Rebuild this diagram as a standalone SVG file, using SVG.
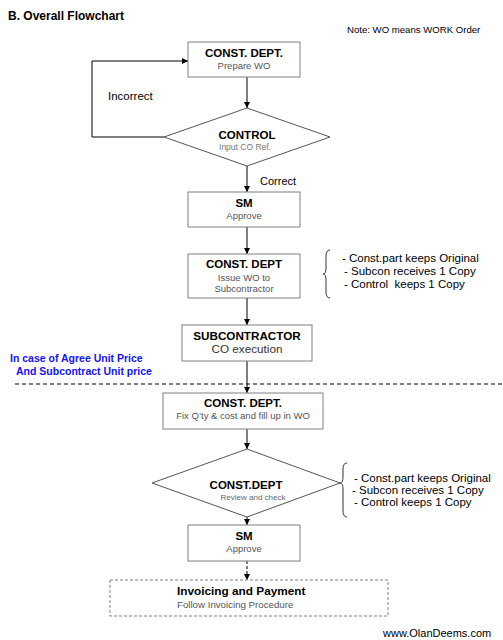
<svg xmlns="http://www.w3.org/2000/svg" width="503" height="640" viewBox="0 0 503 640">
<defs>
<marker id="arr" markerWidth="6" markerHeight="6" refX="6" refY="3" orient="auto" markerUnits="userSpaceOnUse">
<path d="M0,0 L6,3 L0,6 z" fill="#000"/>
</marker>
</defs>
<style>
text{font-family:"Liberation Sans",Arial,sans-serif;}
.box{fill:#fff;stroke:#808080;stroke-width:1;}
.dia{fill:#fff;stroke:#555;stroke-width:1;}
.dbox{fill:#fff;stroke:#808080;stroke-width:1;stroke-dasharray:3,2;}
.t{font-size:11.5px;font-weight:bold;fill:#000;text-anchor:middle;}
.s{font-size:9.5px;fill:#555;text-anchor:middle;}
.c{fill:none;stroke:#000;stroke-width:1;}
.note{font-size:11.5px;fill:#000;white-space:pre;}
.brace{fill:none;stroke:#333;stroke-width:1;}
.blue{font-size:10.5px;font-weight:bold;fill:#1414f0;}
</style>
<rect width="503" height="640" fill="#fff"/>
<text x="8" y="20" style="font-size:12px;font-weight:bold;">B. Overall Flowchart</text>
<text x="347" y="33" style="font-size:9.6px;">Note: WO means WORK Order</text>

<g id="connectors">
<line class="c" x1="247" y1="77" x2="247" y2="108" marker-end="url(#arr)"/>
<polyline class="c" points="164,137 92,137 92,61 188,61" marker-end="url(#arr)"/>
<line class="c" x1="247" y1="166" x2="247" y2="192" marker-end="url(#arr)"/>
<line class="c" x1="247" y1="227" x2="247" y2="254" marker-end="url(#arr)"/>
<line class="c" x1="247" y1="298" x2="247" y2="325" marker-end="url(#arr)"/>
<line class="c" x1="247" y1="361" x2="247" y2="393" marker-end="url(#arr)"/>
<line class="c" x1="247" y1="429" x2="247" y2="449" marker-end="url(#arr)"/>
<line class="c" x1="247" y1="517" x2="247" y2="525" marker-end="url(#arr)"/>
<line class="c" x1="247" y1="561" x2="247" y2="580" stroke-dasharray="3,2" marker-end="url(#arr)"/>
<text x="108" y="100" style="font-size:11.5px;">Incorrect</text>
<text x="260" y="185" style="font-size:11px;">Correct</text>
</g>

<line x1="15" y1="384" x2="503" y2="384" stroke="#000" stroke-width="1" stroke-dasharray="4,3"/>
<text class="blue" x="10" y="362">In case of Agree Unit Price</text>
<text class="blue" x="16" y="375">And Subcontract Unit price</text>

<g id="n1">
<rect class="box" x="188" y="42" width="112" height="35"/>
<text class="t" x="244" y="57">CONST. DEPT.</text>
<text class="s" x="244" y="69">Prepare WO</text>
</g>

<g id="n2">
<polygon class="dia" points="247,108 330,137 247,166 164,137"/>
<text class="t" x="247" y="139">CONTROL</text>
<text class="s" x="245" y="150" style="font-size:8.5px;fill:#777;">Input CO Ref.</text>
</g>

<g id="n3">
<rect class="box" x="188" y="192" width="112" height="35"/>
<text class="t" x="244" y="207">SM</text>
<text class="s" x="244" y="219">Approve</text>
</g>

<g id="n4">
<rect class="box" x="188" y="254" width="112" height="44"/>
<text class="t" x="244" y="268">CONST. DEPT</text>
<text class="s" x="244" y="281">Issue WO to</text>
<text class="s" x="244" y="292">Subcontractor</text>
</g>

<g id="brace1">
<path class="brace" d="M330,250 Q326,250 326,256 L326,268 Q326,274 323,274 Q326,274 326,280 L326,292 Q326,298 330,298"/>
<text class="note" x="342" y="262">- Const.part keeps Original</text>
<text class="note" x="344" y="275">- Subcon receives 1 Copy</text>
<text class="note" x="344" y="288" xml:space="preserve">- Control  keeps 1 Copy</text>
</g>

<g id="n5">
<rect class="box" x="182" y="325" width="130" height="36"/>
<text class="t" x="247" y="340" style="font-size:11.7px;">SUBCONTRACTOR</text>
<text class="s" x="247" y="353" style="font-size:11.7px;fill:#333;">CO execution</text>
</g>

<g id="n6">
<rect class="box" x="163" y="393" width="160" height="36"/>
<text class="t" x="243" y="407">CONST. DEPT.</text>
<text class="s" x="243" y="419">Fix Q’ty &amp; cost and fill up in WO</text>
</g>

<g id="n7">
<polygon class="dia" points="247,449 340,483 247,517 152,483"/>
<text class="t" x="246" y="489">CONST.DEPT</text>
<text class="s" x="253" y="500" style="font-size:8px;fill:#666;">Review and check</text>
</g>

<g id="brace2">
<path class="brace" d="M347,463 Q343,463 343,469 L343,477 Q343,483 340,483 Q343,483 343,489 L343,511 Q343,517 347,517"/>
<text class="note" x="354" y="482">- Const.part keeps Original</text>
<text class="note" x="352" y="494">- Subcon receives 1 Copy</text>
<text class="note" x="354" y="506">- Control keeps 1 Copy</text>
</g>

<g id="n8">
<rect class="box" x="188" y="525" width="112" height="36"/>
<text class="t" x="244" y="540">SM</text>
<text class="s" x="244" y="552">Approve</text>
</g>

<g id="n9">
<rect class="dbox" x="110" y="580" width="278" height="36"/>
<text x="177" y="595" style="font-size:11.8px;font-weight:bold;">Invoicing and Payment</text>
<text x="177" y="608" style="font-size:9.7px;fill:#555;">Follow Invoicing Procedure</text>
</g>

<text x="383" y="637" style="font-size:11px;">www.OlanDeems.com</text>
</svg>
